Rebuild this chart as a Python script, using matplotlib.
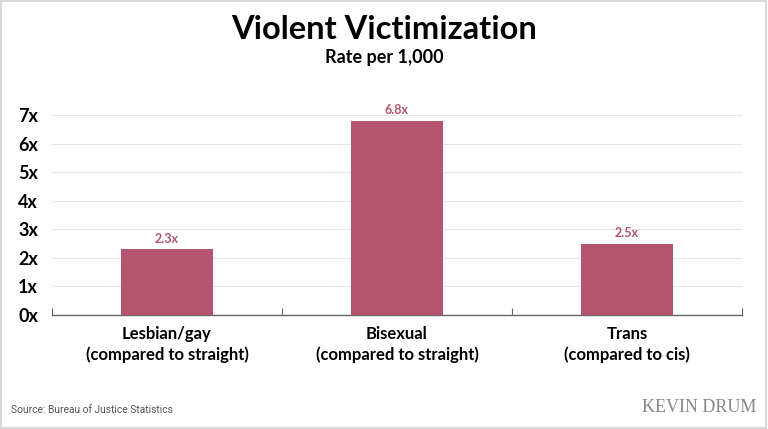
import matplotlib.pyplot as plt
from matplotlib.patches import Rectangle

# data
categories = ["Lesbian/gay\n(compared to straight)",
              "Bisexual\n(compared to straight)",
              "Trans\n(compared to cis)"]
values = [2.3, 6.8, 2.5]
value_labels = ["2.3x", "6.8x", "2.5x"]
ytick_vals = [0, 1, 2, 3, 4, 5, 6, 7]
ytick_labels = ["0x", "1x", "2x", "3x", "4x", "5x", "6x", "7x"]

bar_color = "#b5546f"
plt.rcParams['font.family'] = ['Lato', 'DejaVu Sans']

fig = plt.figure(figsize=(7.68, 4.29), dpi=100)
ax = fig.add_axes([0.0677, 0.2657, 0.8983, 0.4663])

x = range(len(values))
ax.bar(x, values, width=0.4, color=bar_color, zorder=3)
for xi, v, lab in zip(x, values, value_labels):
    ax.text(xi, v + 0.15, lab, ha='center', va='bottom', color=bar_color,
            fontsize=9, fontweight='bold', clip_on=False)

ax.set_xlim(-0.5, 2.5)
ax.set_ylim(0, 7)
ax.set_yticks(ytick_vals)
ax.set_yticklabels(ytick_labels, fontsize=13, fontweight='bold')
ax.yaxis.grid(True, color='#e6e6e6', linewidth=0.8, zorder=0)
ax.tick_params(axis='y', length=0, pad=10)

# boundary ticks + category labels
ax.set_xticks([-0.5, 0.5, 1.5, 2.5])
ax.set_xticklabels([])
ax.tick_params(axis='x', which='major', direction='in', length=5, color='#666666')
ax.set_xticks(list(x), minor=True)
ax.set_xticklabels(categories, minor=True, fontsize=12, fontweight='bold',
                   linespacing=1.3)
ax.tick_params(axis='x', which='minor', length=0, pad=8)

for s in ['top', 'right', 'left']:
    ax.spines[s].set_visible(False)
ax.spines['bottom'].set_color('#666666')
ax.spines['bottom'].set_linewidth(1.0)

fig.text(0.5, 0.932, "Violent Victimization", ha='center', va='center',
         fontsize=23.5, fontweight='bold')
fig.text(0.5, 0.865, "Rate per 1,000", ha='center', va='center',
         fontsize=13, fontweight='bold')
fig.text(0.014, 0.045, "Source: Bureau of Justice Statistics", ha='left',
         va='center', fontsize=7.4, color='#555555', family='Roboto')
fig.text(0.985, 0.05, "KEVIN DRUM", ha='right', va='center', fontsize=13,
         color='#888888', family='Liberation Serif')

fig.patches.append(Rectangle((0.001, 0.002), 0.997, 0.995, transform=fig.transFigure,
                             fill=False, edgecolor='#d8d8d8', linewidth=1.5))

fig.savefig("out.png", dpi=100)
